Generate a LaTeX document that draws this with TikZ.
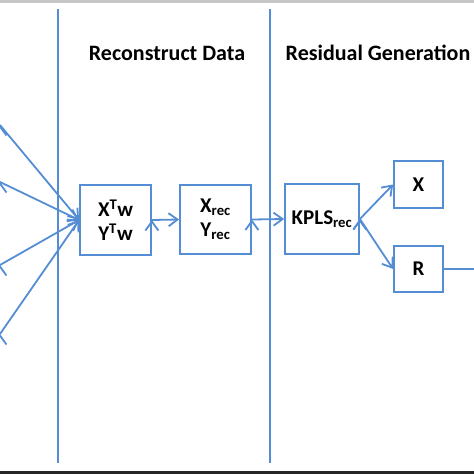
\documentclass[tikz,border=0pt]{standalone}
\usepackage{fontspec}
\setmainfont{Carlito}
\usetikzlibrary{arrows.meta}
\definecolor{lineblue}{RGB}{84,141,212}
\begin{document}
\begin{tikzpicture}[x=1pt, y=-1pt, block/.style={draw=lineblue, line width=1.8pt, fill=white, inner sep=1pt, align=center, font=\bfseries\fontsize{21}{24}\selectfont}, flow/.style={lineblue, line width=1.8pt, -{Straight Barb[length=9pt,width=13pt]}}, header/.style={font=\bfseries\fontsize{22}{26}\selectfont}]
			\useasboundingbox (0,0) rectangle (474,474);
			\fill[gray!45] (0,0) rectangle (474,2.5);
			\fill[black!85] (0,471) rectangle (474,474);
%			\draw[help lines] (0,0) grid (474,474);
			\coordinate (sep1-top) at (58, 9);
			\coordinate (sep1-bot) at (58, 463);
			\coordinate (sep2-top) at (270, 9);
			\coordinate (sep2-bot) at (270, 463);
			\draw[lineblue, line width=1.8pt] (sep1-top) -- (sep1-bot);
			\draw[lineblue, line width=1.8pt] (sep2-top) -- (sep2-bot);
			\node[header] (recon) at (167, 53) {Reconstruct Data};
			\node[header] (resid) at (378, 53) {Residual Generation};
			\node[block, minimum width=71pt, minimum height=70pt] (proj) at (115.5, 220) {X\textsuperscript{T}w\\Y\textsuperscript{T}w};
			\node[block, minimum width=71pt, minimum height=69pt] (rec) at (215.5, 219.5) {X\textsubscript{rec}\\Y\textsubscript{rec}};
			\node[block, minimum width=74pt, minimum height=70pt] (kpls) at (322, 219) {KPLS\textsubscript{rec}};
			\node[block, minimum width=49pt, minimum height=47pt] (xout) at (418.5, 184.5) {X};
			\node[block, minimum width=49pt, minimum height=46pt] (rout) at (418.5, 269) {R};
			\coordinate (in1) at (0, 125);
			\coordinate (in2) at (0, 182);
			\coordinate (in3) at (0, 265);
			\coordinate (in4) at (0, 334);
			\coordinate (out) at (474, 269);
			\draw[flow] (in1) edge (proj.west);
			\draw[flow] (in2) edge (proj.west);
			\draw[flow] (in3) edge (proj.west);
			\draw[flow] (in4) edge (proj.west);
			\draw[flow] (proj.east) edge (rec.west);
			\draw[flow] (rec.east) edge (kpls.west);
			\draw[flow] (kpls.east) edge (xout.west);
			\draw[flow] (kpls.east) edge (rout.west);
			\draw[lineblue, line width=1.8pt] (rout.east) -- (out);
		\end{tikzpicture}
\end{document}
